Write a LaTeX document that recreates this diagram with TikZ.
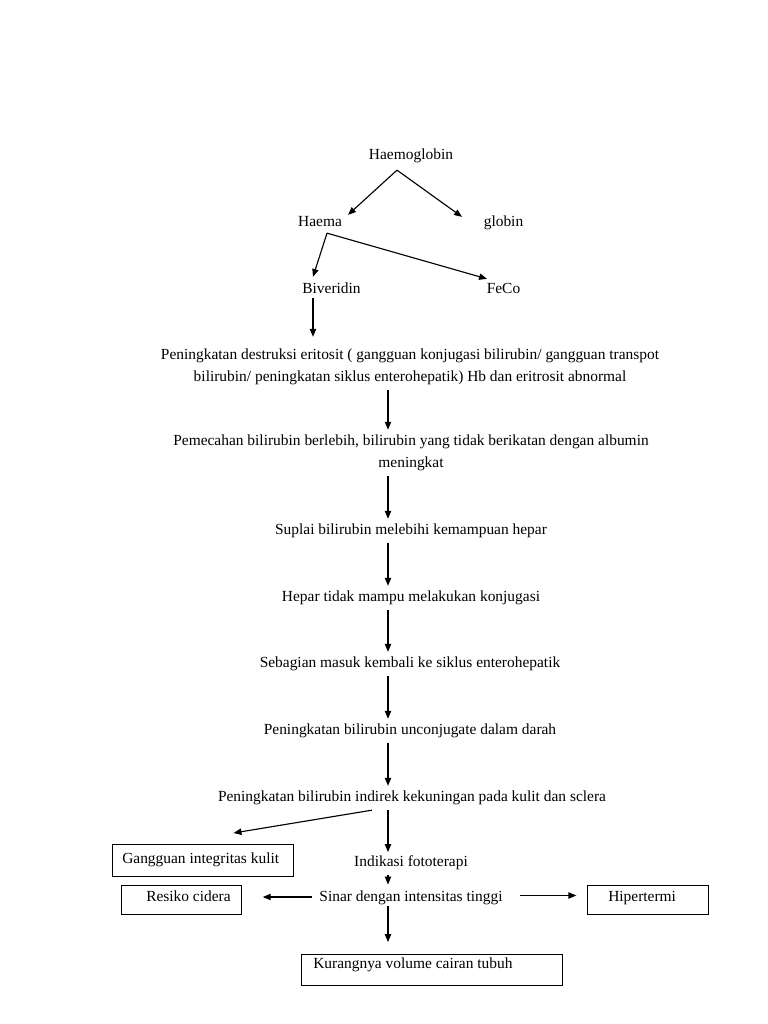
\documentclass[tikz,border=0pt]{standalone}
\usepackage{fontspec}
\setmainfont{Liberation Serif}
\usetikzlibrary{arrows.meta,calc}
\newdimen\pxu
\pxu=0.796875pt
\begin{document}
\begin{tikzpicture}[x=0.796875pt,y=-0.796875pt,
  txt/.style={inner sep=0pt,text height=8.5pt,text depth=2.5pt,font=\fontsize{12.3}{17.5}\selectfont},
  mtxt/.style={inner sep=0pt,align=center,font=\fontsize{12.3}{17.5}\selectfont},
  boxed/.style={draw,line width=0.85pt,inner sep=0pt,anchor=north west},
  arr/.style={line width=0.9pt,-{Triangle[length=6.3pt,width=5pt]}},
  vchain/.style={arr,shorten <=4pt,shorten >=4pt}]
\useasboundingbox (0,0) rectangle (768,1024);
\coordinate (ax) at (388,0);
\coordinate (bx) at (313,0);
% texts
\node[txt] (hb) at (411,156) {Haemoglobin};
\node[txt] (haema) at (320,223) {Haema};
\node[txt] (globin) at (503.5,223) {globin};
\node[txt] (biv) at (331.5,290) {Biveridin};
\node[txt] (feco) at (503.5,290) {FeCo};
\node[mtxt] (n1) at (410,367) {Peningkatan destruksi eritosit ( gangguan konjugasi bilirubin/ gangguan transpot\\bilirubin/ peningkatan siklus enterohepatik) Hb dan eritrosit abnormal};
\node[mtxt] (n2) at (411,453) {Pemecahan bilirubin berlebih, bilirubin yang tidak berikatan dengan albumin\\meningkat};
\node[txt] (n3) at (411,531) {Suplai bilirubin melebihi kemampuan hepar};
\node[txt] (n4) at (411,598) {Hepar tidak mampu melakukan konjugasi};
\node[txt] (n5) at (410,664) {Sebagian masuk kembali ke siklus enterohepatik};
\node[txt] (n6) at (410,731) {Peningkatan bilirubin unconjugate dalam darah};
\node[txt] (n7) at (412,798) {Peningkatan bilirubin indirek kekuningan pada kulit dan sclera};
\node[txt] (ind) at (411,863) {Indikasi fototerapi};
\node[txt] (sinar) at (411,898) {Sinar dengan intensitas tinggi};
% boxes
\node[boxed,minimum width=181\pxu,minimum height=32\pxu] (gikbox) at (112,844) {};
\node[txt,anchor=west] (gik) at (122,860) {Gangguan integritas kulit};
\node[boxed,minimum width=120\pxu,minimum height=29\pxu] (resbox) at (121,885) {};
\node[txt,anchor=west] (res) at (146,898) {Resiko cidera};
\node[boxed,minimum width=121\pxu,minimum height=29\pxu] (hipbox) at (587,885) {};
\node[txt,anchor=west] (hip) at (608,898) {Hipertermi};
\node[boxed,minimum width=261\pxu,minimum height=31\pxu] (kurbox) at (301,954) {};
\node[txt,anchor=west] (kur) at (313,965) {Kurangnya volume cairan tubuh};
% connectors top
\draw[arr] ([shift={(-14,7)}]hb.south) -- ([shift={(28,-1)}]haema.north);
\draw[arr] ([shift={(-14,7)}]hb.south) -- ([shift={(-41.5,1)}]globin.north);
\draw[arr] ([shift={(7,3)}]haema.south) -- ([shift={(-18.5,-6)}]biv.north);
\draw[arr] ([shift={(7,3)}]haema.south) -- ([shift={(-16.5,-4)}]feco.north);
\draw[arr,shorten <=0.5pt,shorten >=9.5pt] (biv.south -| bx) -- (n1.north -| bx);
% chain
\draw[vchain,shorten <=3.5pt] (n1.south -| ax) -- (n2.north -| ax);
\draw[vchain,shorten <=3.5pt] (n2.south -| ax) -- (n3.north -| ax);
\draw[vchain,shorten <=3.5pt] (n3.south -| ax) -- (n4.north -| ax);
\draw[vchain,shorten <=3.5pt] (n4.south -| ax) -- (n5.north -| ax);
\draw[vchain,shorten <=3.5pt] (n5.south -| ax) -- (n6.north -| ax);
\draw[vchain,shorten <=3.5pt] (n6.south -| ax) -- (n7.north -| ax);
\draw[arr,shorten <=4pt,shorten >=3pt] (n7.south -| ax) -- (ind.north -| ax);
\draw[arr] ([shift={(-40,5)}]n7.south) -- ([shift={(30.5,-11)}]gikbox.north);
\draw[arr,shorten <=4pt,shorten >=5pt] (ind.south -| ax) -- (sinar.north -| ax);
\draw[arr,shorten <=6pt,shorten >=16.5pt] ([yshift=0.8pt]sinar.west) -- ([yshift=0.8pt]sinar.west -| resbox.east);
\draw[arr,shorten <=13.5pt,shorten >=8.5pt] ([yshift=2pt]sinar.east) -- ([yshift=2pt]sinar.east -| hipbox.west);
\draw[arr,shorten <=0.5pt,shorten >=9.5pt] (sinar.south -| ax) -- (kurbox.north -| ax);
\end{tikzpicture}
\end{document}
